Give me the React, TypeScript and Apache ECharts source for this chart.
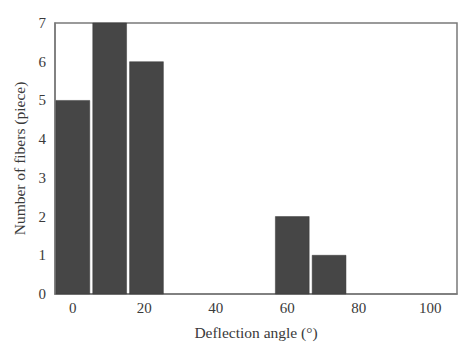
import React, { useEffect, useRef } from "react";
import * as echarts from "echarts";

// Histogram data
const binCenters = [0, 10.3, 20.6, 61.4, 71.7];
const binWidth = 10.3;
const counts = [5, 7, 6, 2, 1];
const xTicks = [0, 20, 40, 60, 80, 100];
const yTicks = [0, 1, 2, 3, 4, 5, 6, 7];

const FONT = "'Liberation Serif', 'DejaVu Serif', serif";

export default function App() {
  const ref = useRef<HTMLDivElement>(null);
  useEffect(() => {
    if (!ref.current) return;
    const chart = echarts.init(ref.current, undefined, { renderer: "svg" });
    const data = binCenters.map((c, i) => [c - binWidth / 2, c + binWidth / 2, counts[i]]);
    chart.setOption({
      animation: false,
      backgroundColor: "#ffffff",
      grid: {
        left: 55,
        top: 23,
        right: 17,
        bottom: 63,
        show: true,
        borderColor: "#7a7a7a",
        borderWidth: 1.5,
        backgroundColor: "transparent",
      },
      xAxis: {
        type: "value",
        min: -5,
        max: 107.5,
        name: "Deflection angle (°)",
        nameLocation: "middle",
        nameGap: 30,
        nameTextStyle: { fontFamily: FONT, fontSize: 15.5, color: "#3a3a3a" },
        axisLine: { show: true, onZero: false, lineStyle: { color: "#7a7a7a", width: 1.5 } },
        axisTick: { show: false },
        splitLine: { show: false },
        axisLabel: {
          customValues: xTicks,
          fontFamily: FONT,
          fontSize: 15,
          color: "#3a3a3a",
          margin: 6,
        },
      },
      yAxis: {
        type: "value",
        min: 0,
        max: 7,
        interval: 1,
        name: "Number of fibers (piece)",
        nameLocation: "middle",
        nameGap: 19,
        nameTextStyle: { fontFamily: FONT, fontSize: 15.5, color: "#3a3a3a" },
        axisLine: { show: true, onZero: false, lineStyle: { color: "#7a7a7a", width: 1.5 } },
        axisTick: { show: false },
        splitLine: { show: false },
        axisLabel: {
          customValues: yTicks,
          fontFamily: FONT,
          fontSize: 15,
          color: "#3a3a3a",
          margin: 9,
        },
      },
      series: [
        {
          type: "custom",
          data,
          encode: { x: [0, 1], y: 2 },
          renderItem: (params: any, api: any) => {
            const start = api.coord([api.value(0), api.value(2)]);
            const end = api.coord([api.value(1), 0]);
            const gap = 1.5;
            return {
              type: "rect",
              shape: {
                x: start[0] + gap,
                y: start[1],
                width: end[0] - start[0] - 2 * gap,
                height: end[1] - start[1],
              },
              style: { fill: "#464646", stroke: "#3a3a3a", lineWidth: 0.5 },
            };
          },
        },
      ],
    });
    return () => chart.dispose();
  }, []);
  return (
    <div
      ref={ref}
      style={{ position: "fixed", left: 0, top: 0, width: 474, height: 357 }}
    />
  );
}
